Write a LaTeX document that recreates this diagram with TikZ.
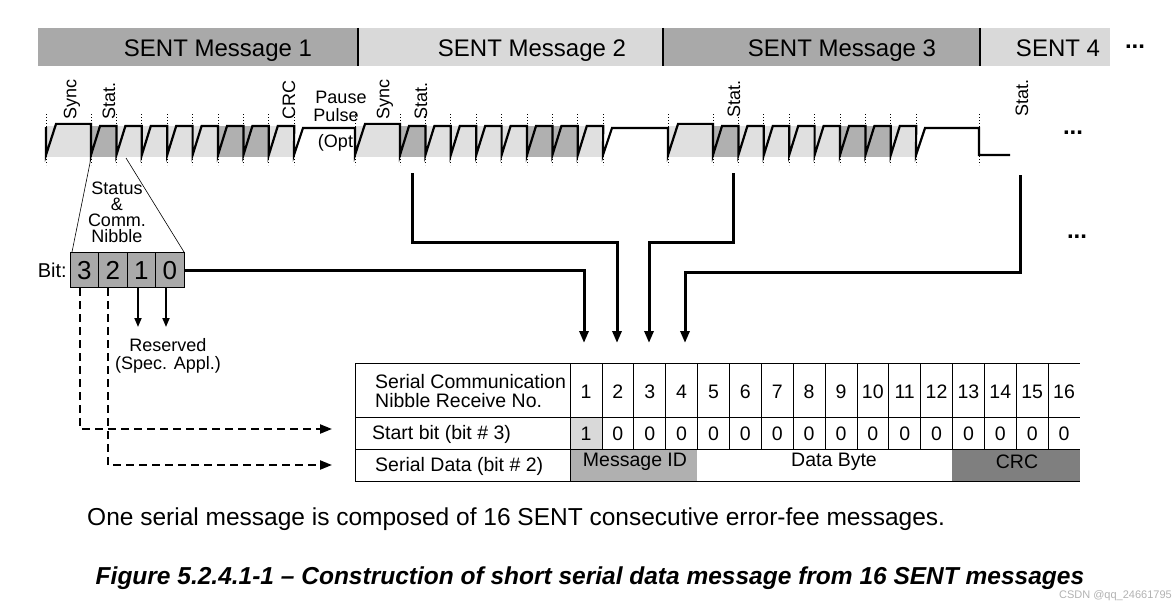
\documentclass[tikz,border=0pt]{standalone}
\usepackage{fontspec}
\setmainfont{Liberation Sans}
\usetikzlibrary{arrows.meta}
\definecolor{dg}{HTML}{A9A9A9}
\definecolor{lg}{HTML}{D9D9D9}
\definecolor{sh}{HTML}{E0E0E0}
\definecolor{shd}{HTML}{B0B0B0}
\definecolor{crc}{HTML}{7F7F7F}
\begin{document}
\begin{tikzpicture}[x=1pt,y=-1pt,
  hdr/.style={font=\fontsize{24}{24}\selectfont,inner sep=0},
  lab/.style={font=\fontsize{18}{18}\selectfont,inner sep=0},
  rot/.style={lab,rotate=90,anchor=west},
  wave/.style={line width=2.2pt,line join=miter},
  thick/.style={line width=3pt},
  dsh/.style={line width=2.2pt,dash pattern=on 8pt off 5pt},
  arr/.style={-{Triangle[length=12pt,width=9pt]}},
  cell/.style={draw,line width=0.6pt},
  tx/.style={font=\fontsize{19.5}{19.5}\selectfont,inner sep=0}]
\useasboundingbox (0,0) rectangle (1176,602);
% header
\fill[dg] (38,28) rectangle (358,66);
\fill[lg] (358,28) rectangle (663,66);
\fill[dg] (663,28) rectangle (980,66);
\fill[lg] (980,28) rectangle (1110,66);
\foreach \x in {358,663,980} \draw[line width=2.5pt] (\x,28) -- (\x,66);
\node[hdr,anchor=base] (h1) at (218,57) {SENT Message 1};
\node[hdr,anchor=base] (h2) at (532,57) {SENT Message 2};
\node[hdr,anchor=base] (h3) at (842,57) {SENT Message 3};
\node[hdr,anchor=base] (h4) at (1058,57) {SENT 4};
\node[hdr] (hd) at (1135,47) {\textbf{...}};
% waveform shading and dotted lines
\foreach \s in {46,355,668}{
  \fill[sh] (\s,126) rectangle (\s+248,157);
  \fill[shd] (\s+45,126) rectangle (\s+71,157);
  \fill[shd] (\s+172,126) rectangle (\s+223,157);
  \draw[dotted,line width=1pt] (\s,114) -- (\s,165);
  \foreach \k in {0,...,8} \draw[dotted,line width=1pt] (\s+45+25.4*\k,114) -- (\s+45+25.4*\k,165);
}
\draw[dotted,line width=1pt] (979,114) -- (979,165);
% waveform line
\draw[wave] (46,127)
  \foreach \s/\e in {46/355,355/668,668/979}{
    -- (\s,127) -- (\s,155) -- (\s+10,124) -- (\s+45,124)
    \foreach \k in {0,...,7}{ -- (\s+45+25.4*\k,155) -- (\s+54+25.4*\k,126) -- (\s+70.4+25.4*\k,126) }
    -- (\s+248,155) -- (\s+257,128) -- (\e,128)
  } -- (979,155) -- (1010,155);
% labels
\node[rot] (sy1) at (72,120) {Sync};
\node[rot] (st1) at (109,120) {Stat.};
\node[rot] (cr1) at (289,120) {CRC};
\node[lab] (pp1) at (341,97) {Pause};
\node[lab] (pp2) at (336,115) {Pulse};
\node[lab] (pp3) at (338,143) {(Opt.};
\node[rot] (sy2) at (385,120) {Sync};
\node[rot] (st2) at (421,120) {Stat.};
\node[rot] (st3) at (734,118) {Stat.};
\node[rot] (st4) at (1022,117) {Stat.};
\node[hdr] (d1) at (1073,133) {\textbf{...}};
\node[hdr] (d2) at (1077,237) {\textbf{...}};
% status fan
\coordinate (f1) at (91,158); \coordinate (f2) at (126,158);
\draw[line width=0.6pt] (f1) -- (72,252) (f2) -- (184,252);
\node[lab,align=center] (stat) at (117,212) {Status\\[-2pt]\&\\[-2pt]Comm.\\[-2pt]Nibble};
% bit box
\node[lab,font=\fontsize{20}{20}\selectfont,anchor=base east] (bit) at (67,277) {Bit:};
\foreach \i/\b in {0/3,1/2,2/1,3/0}{
  \draw[cell,fill=dg] (70+28.5*\i,252) rectangle (98.5+28.5*\i,287);
  \node[hdr,font=\fontsize{26}{26}\selectfont,anchor=base] (b\b) at (84.25+28.5*\i,279) {\b};
}
\coordinate (b0e) at (184,270);
% reserved arrows
\draw[line width=1.8pt,-{Triangle[length=9pt,width=7pt]}] (138,288) -- (138,327);
\draw[line width=1.8pt,-{Triangle[length=9pt,width=7pt]}] (166,288) -- (166,327);
\node[lab,align=center] (res) at (168,356) {Reserved\\(Spec. Appl.)};
% dashed
\draw[dsh,arr] (80,288) -- (80,429) -- (332,429);
\draw[dsh,arr] (108,288) -- (108,465) -- (332,465);
% thick connectors
\coordinate (s2) at (412,173); \coordinate (s3) at (733,173); \coordinate (s4) at (1020,175);
\draw[thick,arr] (b0e) -- (584,270) -- (584,343);
\draw[thick,arr] (s2) -- (412,242) -- (617,242) -- (617,343);
\draw[thick,arr] (s3) -- (733,242) -- (649,242) -- (649,343);
\draw[thick,arr] (s4) -- (1020,272) -- (685,272) -- (685,343);
% table
\fill[lg] (570,417) rectangle (602,449);
\fill[shd] (570,449) rectangle (697,481);
\fill[crc] (952,449) rectangle (1080,481);
\draw[line width=0.7pt] (355,363) -- (1080,363) (355,417) -- (1080,417) (355,449) -- (1080,449) (355,481) -- (1080,481) (355,363) -- (355,481);
\foreach \i in {0,...,15}{
  \pgfmathsetmacro\xx{570+31.875*\i}
  \draw[line width=0.7pt] (\xx,363) -- (\xx,449);
}
\draw[line width=0.7pt] (570,449) -- (570,481);
\node[tx,align=left,anchor=west] (r1) at (375,391) {Serial Communication\\Nibble Receive No.};
\node[tx,anchor=west] (r2) at (372,434) {Start bit (bit \# 3)};
\node[tx,anchor=west] (r3) at (375,466) {Serial Data (bit \# 2)};
\foreach \i in {1,...,16}{
  \pgfmathsetmacro\xx{570+31.875*(\i-0.5)}
  \node[tx,anchor=base] (n\i) at (\xx,398) {\i};
  \ifnum\i=1 \node[tx,anchor=base] (v\i) at (\xx,440) {1};\else \node[tx,anchor=base] (v\i) at (\xx,440) {0};\fi
}
\node[tx] (mid) at (635,462) {Message ID};
\node[tx] (db) at (834,462) {Data Byte};
\node[tx] (cc) at (1017,462) {CRC};
% text
\node[tx,anchor=west,font=\fontsize{24.5}{24.5}\selectfont] (t1) at (87,519) {One serial message is composed of 16 SENT consecutive error-fee messages.};
\node[tx,font=\fontsize{24.5}{24.5}\selectfont\bfseries\itshape] (cap) at (590,578) {Figure 5.2.4.1-1 – Construction of short serial data message from 16 SENT messages};
\node[tx,font=\fontsize{11}{11}\selectfont,text=gray!60,anchor=south east] (wm) at (1172,601) {CSDN @qq\_24661795};
\end{tikzpicture}
\end{document}
